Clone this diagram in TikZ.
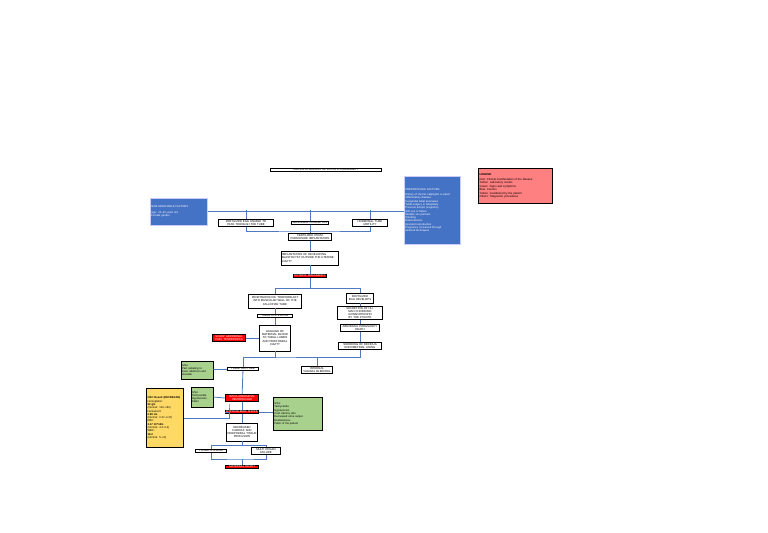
\documentclass[tikz,border=0pt]{standalone}
\usepackage{fontspec}
\setmainfont{Liberation Sans}
\definecolor{linkblue}{HTML}{4F7AC0}
\definecolor{factorblue}{HTML}{4472C4}
\definecolor{ssgreen}{HTML}{A9D18E}
\definecolor{labyellow}{HTML}{FFD966}
\begin{document}
\begin{tikzpicture}[x=0.03cm, y=-0.03cm,
    box/.style={rectangle, draw, thick, fill=white, inner sep=0.6pt, align=center, font=\fontsize{2.4}{2.8}\selectfont},
    redbox/.style={box, fill=red, text=white},
    bluebox/.style={rectangle, draw=blue!20, fill=factorblue, text=white, inner sep=1pt, align=left, font=\fontsize{2.3}{2.8}\selectfont, anchor=north west},
    greenbox/.style={rectangle, draw, fill=ssgreen, inner sep=1pt, align=left, font=\fontsize{2.3}{2.8}\selectfont},
    link/.style={draw=linkblue, line width=0.7pt}
]
    \useasboundingbox (0,0) rectangle (768,532);

    % Title and legend
    \node[box, text width=3.3cm] (title) at (326,170) {PATHOPHYSIOLOGY OF ECTOPIC PREGNANCY};
    \node[rectangle, draw, thick, fill=red!50, anchor=north west, align=left, text width=2.15cm, minimum height=1.05cm, inner sep=1pt, font=\fontsize{2.4}{2.9}\selectfont] (legend) at (478,168)
        {\textbf{LEGEND}\\[1pt] Red: Clinical manifestation of the disease\\ Yellow: Laboratory results\\ Green: Signs and symptoms\\ Blue: Factors\\ Yellow: manifested by the patient\\ Others: Diagnostic procedures};

    % Factors
    \node[bluebox, text width=1.6cm, minimum height=2.04cm] (risk) at (404,176)
        {PREDISPOSING FACTORS:\\[2pt] History of chronic salpingitis or pelvic\\ inflammatory disease\\ Congenital tubal anomalies\\ Tubal surgery or tuboplasty\\ Previous ectopic pregnancy\\ IUD use or failure\\ Multiple sex partners\\ Smoking\\ Endometriosis\\ Assisted reproduction\\ Pregnancy conceived through\\ assisted techniques};
    \node[bluebox, text width=1.65cm, minimum height=0.81cm] (nonmod) at (150,198)
        {NON-MODIFIABLE FACTORS\\[2pt] Age: 20--40 years old\\ Female gender};

    % Main flow
    \node[box, text width=1.6cm] (egg) at (246,223) {FERTILIZED EGG UNABLE TO\\ PASS THROUGH THE TUBE};
    \node[box, text width=1.08cm] (abn) at (310,223) {ABNORMAL CONCEPTUS};
    \node[box, text width=1.02cm] (hor) at (370,223) {HORMONAL TUBE\\ MOTILITY};
    \node[box, text width=1.26cm] (prem) at (310,237) {FERTILIZED OVUM\\ PREMATURE IMPLANTATION};
    \node[box, text width=1.68cm, minimum height=0.42cm, align=left] (impl) at (310,258) {IMPLANTATION OF DEVELOPING\\ BLASTOCYST OUTSIDE THE UTERINE\\ CAVITY};
    \node[redbox, text width=0.96cm] (ectopic) at (310,276) {ECTOPIC PREGNANCY};

    \node[box, text width=1.56cm, minimum height=0.42cm] (perf) at (275,301) {PENETRATION OF TROPHOBLAST\\ INTO MUSCULAR WALL OF THE\\ FALLOPIAN TUBE};
    \node[box, text width=0.78cm, minimum height=0.3cm] (fert) at (360,298) {FERTILIZED\\ EGG DEVELOPS};
    \node[box, text width=1.02cm] (dist) at (275,316) {TUBAL DISTENTION};
    \node[box, text width=0.9cm, minimum height=0.78cm] (stop) at (275,338) {LEAKAGE OF\\ MATERNAL BLOOD\\ TO TUBAL LUMEN\\ AND PERITONEAL\\ CAVITY};
    \node[redbox, text width=0.96cm] (pain) at (229,338) {SHARP ABDOMINAL\\ PAIN, TENDERNESS};
    \node[box, text width=1.32cm] (hcg) at (360,313) {SECRETION OF HUMAN CHORIONIC\\ GONADOTROPIN BY THE ZYGOTE};
    \node[box, text width=1.14cm] (decid) at (360,328) {ABNORMAL PREGNANCY\\ DEATH};
    \node[box, text width=1.26cm] (shed) at (360,346) {SHEDDING OF DECIDUA\\ ENDOMETRIAL LINING};

    \node[greenbox, text width=0.9cm, minimum height=0.54cm] (s1) at (197,370) {S/Sx:\\ Pain radiating to\\ lower abdomen and\\ shoulder};
    \node[box, text width=0.9cm] (rupt) at (243,369) {TUBAL RUPTURE};
    \node[box, text width=0.9cm] (bleed) at (317,370) {INTERNAL\\ VAGINAL BLEEDING};

    \node[rectangle, draw, thick, fill=labyellow, anchor=north west, text width=1.03cm, minimum height=1.77cm, inner sep=1pt, align=left, font=\fontsize{2.3}{2.8}\selectfont] (lab) at (146,388)
        {\textbf{CBC Result (DECREASE)}\\ Hemoglobin:\\ \textbf{92 g/L}\\ (Normal: 120--160)\\ Hematocrit:\\ \textbf{0.28 L/L}\\ (Normal: 0.37--0.47)\\ RBC:\\ \textbf{3.17 10\textasciicircum12/L}\\ (Normal: 4.2--5.4)\\ WBC:\\ \textbf{16.2}\\ (Normal: 5--10)};
    \node[greenbox, text width=0.6cm, minimum height=0.6cm] (s2) at (202,397) {S/Sx:\\ Tachycardia\\ Hypotension\\ Pallor};
    \node[redbox, text width=0.96cm] (hemo) at (242,398) {INTRA-ABDOMINAL\\ HEMORRHAGE};
    \node[redbox, text width=0.96cm] (shock) at (242,412) {HYPOVOLEMIC SHOCK};
    \node[greenbox, anchor=north west, text width=1.4cm, minimum height=0.99cm] (s3) at (273,397) {S/Sx:\\ Tachycardia\\ Hypotension\\ Cold clammy skin\\ Decreased urine output\\ Restlessness\\ Pallor of the patient};
    \node[box, text width=0.9cm, minimum height=0.54cm] (perfu) at (242,432) {DECREASED\\ CARDIAC AND\\ PERIPHERAL TISSUE\\ PERFUSION};
    \node[box, text width=0.9cm] (hyp) at (211,451) {TISSUE HYPOXIA};
    \node[box, text width=0.84cm] (organ) at (266,451) {MULTI ORGAN\\ FAILURE};
    \node[redbox, text width=0.96cm] (death) at (242,467) {MATERNAL DEATH};

    % Connectors
    \draw[link] (nonmod.east) -- (risk.west |- nonmod.east);
    \draw[link] (egg.north) -- (egg.north |- 0,210);
    \draw[link] (abn.north) -- (abn.north |- 0,210);
    \draw[link] (hor.north) -- (hor.north |- 0,210);
    \draw[link] (egg.south) |- (310,231) -| (hor.south);
    \draw[link] (abn.south) -- (prem.north);
    \draw[link] (prem) -- (impl);
    \draw[link] (impl) -- (ectopic);
    \draw[link] (ectopic.south) |- (310,288) -| (perf.north);
    \draw[link] (310,288) -| (fert.north);
    \draw[link] (perf) -- (dist);
    \draw[link] (dist) -- (stop);
    \draw[link] (stop) -- (pain);
    \draw[link] (fert) -- (hcg);
    \draw[link] (hcg) -- (decid);
    \draw[link] (decid) -- (shed);
    \draw[link] (stop.south) |- (275,357) -| (rupt.north);
    \draw[link] (shed.south) |- (275,357) -| (bleed.north);
    \draw[link] (rupt) -- (s1);
    \draw[link] (rupt) -- (hemo);
    \draw[link] (hemo) -- (shock);
    \draw[link] (s2.east) -- (hemo.west);
    \draw[link] (shock) -- (s3.west |- shock);
    \draw[link] (lab.east) -| (229,404) |- (shock.west);
    \draw[link] (shock) -- (perfu);
    \draw[link] (perfu.south) |- (242,445) -| (hyp.north);
    \draw[link] (242,445) -| (organ.north);
    \draw[link] (hyp.south) |- (242,459) -| (organ.south);
    \draw[link] (242,459) -- (death);
\end{tikzpicture}
\end{document}
